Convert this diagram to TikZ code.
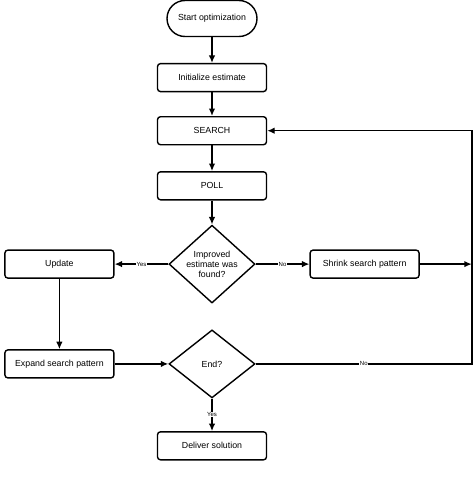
\documentclass[tikz,border=0pt]{standalone}
\usepackage{fontspec}
\setmainfont{Liberation Sans}
\usepackage{tikz}
\usetikzlibrary{shapes,arrows.meta,positioning,calc}

\begin{document}
\begin{tikzpicture}[
    x=1pt, y=1pt,
    font=\fontsize{8.8}{10}\selectfont,
    terminal/.style={rectangle, rounded corners=18pt, draw, line width=1.4pt, minimum width=90pt, minimum height=36pt},
    process/.style={rectangle, rounded corners=3pt, draw, line width=1.4pt, minimum width=109pt, minimum height=28pt},
    decision/.style={diamond, draw, line width=1.4pt, minimum width=86pt, minimum height=68pt, inner sep=0pt, align=center},
    arrow/.style={-{Latex[length=7.5pt,width=6.5pt]}, line width=1.4pt},
    answer/.style={fill=white, inner sep=0.5pt, font=\fontsize{6}{6}\selectfont}
]
\useasboundingbox (0,0) rectangle (474,-479);

% Main column
\node[terminal] (start) at (212,-18.5) {Start optimization};
\node[process, below=25.7pt of start] (init) {Initialize estimate};
\node[process, below=23.7pt of init] (search) {SEARCH};
\node[process, below=25.7pt of search] (poll) {POLL};
\node[decision, below=24pt of poll] (improved) {Improved\\estimate was\\found?};

% Branches
\node[process, left=53.7pt of improved] (update) {Update};
\node[process, right=53.7pt of improved] (shrink) {Shrink search pattern};

% End test
\node[decision, below=25.5pt of improved] (endq) {End?};
\node[process, left=53.7pt of endq] (expand) {Expand search pattern};
\node[process, below=32.5pt of endq] (deliver) {Deliver solution};

% Return line
\coordinate[right=52pt of shrink] (loop);

% Arrows
\draw[arrow] (start) -- (init);
\draw[arrow] (init) -- (search);
\draw[arrow] (search) -- (poll);
\draw[arrow] (poll) -- (improved);
\draw[arrow] (improved) -- node[answer] {Yes} (update);
\draw[arrow] (improved) -- node[answer] {No} (shrink);
\draw[arrow] (shrink) -- (loop);
\draw[arrow] (update) -- (expand);
\draw[arrow] (expand) -- (endq);
\draw[arrow] (endq) -- node[answer] {Yes} (deliver);
\draw[arrow] (endq.east) -- node[answer] {No} (endq -| loop) |- (search.east);

\end{tikzpicture}
\end{document}
